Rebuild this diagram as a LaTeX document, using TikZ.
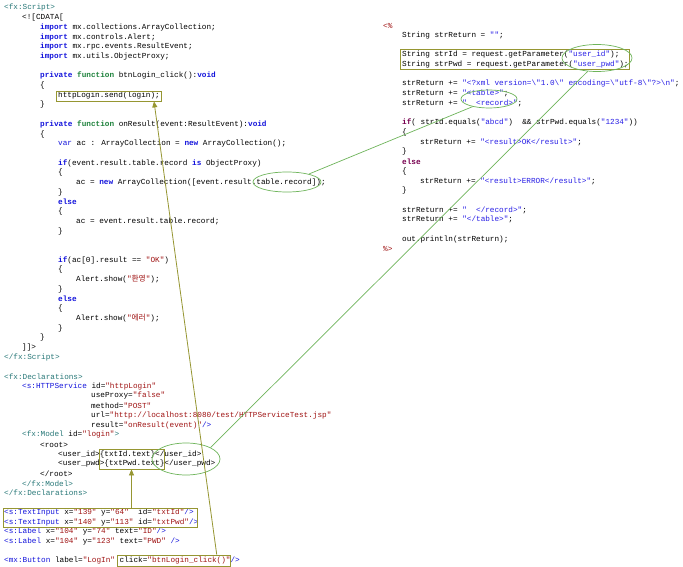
\documentclass[tikz,border=0pt]{standalone}
\usepackage{fontspec}
\usetikzlibrary{shapes.geometric,arrows.meta,calc}
\newfontfamily\cf{Liberation Mono}
\newfontfamily\ko{Noto Sans CJK KR}
\definecolor{tagc}{RGB}{40,120,120}
\definecolor{kwc}{RGB}{20,20,220}
\definecolor{fnc}{RGB}{30,130,60}
\definecolor{avc}{RGB}{160,20,20}
\definecolor{jsc}{RGB}{40,30,230}
\definecolor{jkc}{RGB}{120,0,80}
\definecolor{olc}{RGB}{150,150,50}
\definecolor{grc}{RGB}{110,180,90}
\newcommand\tg[1]{\textcolor{tagc}{#1}}
\newcommand\kw[1]{\textcolor{kwc}{\bfseries #1}}
\newcommand\fn[1]{\textcolor{fnc}{\bfseries #1}}
\newcommand\av[1]{\textcolor{avc}{#1}}
\newcommand\tb[1]{\textcolor{kwc}{#1}}
\newcommand\js[1]{\textcolor{jsc}{#1}}
\newcommand\jk[1]{\textcolor{jkc}{\bfseries #1}}
\newcommand\pc[1]{\textcolor{avc}{#1}}
\newcounter{ln}
\newcommand\cl[3]{\stepcounter{ln}\node[code] (l\theln) at (#1,{-(8+9.7*#2)}) {#3};}
\newcommand\crt[3]{\stepcounter{ln}\node[code] (l\theln) at (#1,{-(25.8+9.7*#2)}) {#3};}
\begin{document}
\begin{tikzpicture}[x=1pt,y=1pt,
  code/.style={anchor=west,inner sep=0pt,font=\cf\fontsize{7.7}{9}\selectfont},
  ob/.style={draw=olc,line width=0.8pt,inner sep=0pt},
  ell/.style={draw=grc,ellipse,line width=0.7pt,inner sep=0pt},
  gl/.style={draw=grc,line width=0.7pt},
  ol/.style={draw=olc,line width=0.8pt,-{Triangle[length=6pt,width=5pt]}}]
\useasboundingbox[fill=white] (0,0) rectangle (683,-567);
% left column
\cl{4}{0}{\tg{<fx:Script>}}
\cl{22}{1}{<![CDATA[}
\cl{40}{2}{\kw{import} mx.collections.ArrayCollection;}
\cl{40}{3}{\kw{import} mx.controls.Alert;}
\cl{40}{4}{\kw{import} mx.rpc.events.ResultEvent;}
\cl{40}{5}{\kw{import} mx.utils.ObjectProxy;}
\cl{40}{7}{\kw{private} \fn{function} btnLogin\_click():\kw{void}}
\cl{40}{8}{\{}
\cl{58}{9}{httpLogin.send(login);}
\cl{40}{10}{\}}
\cl{40}{12}{\kw{private} \fn{function} onResult(event:ResultEvent):\kw{void}}
\cl{40}{13}{\{}
\cl{58}{14}{\tb{var} ac : ArrayCollection = \kw{new} ArrayCollection();}
\cl{58}{16}{\kw{if}(event.result.table.record \kw{is} ObjectProxy)}
\cl{58}{17}{\{}
\cl{76}{18}{ac = \kw{new} ArrayCollection([event.result.table.record]);}
\cl{58}{19}{\}}
\cl{58}{20}{\kw{else}}
\cl{58}{21}{\{}
\cl{76}{22}{ac = event.result.table.record;}
\cl{58}{23}{\}}
\cl{58}{26}{\kw{if}(ac[0].result == \av{"OK"})}
\cl{58}{27}{\{}
\cl{76}{28}{Alert.show(\av{"{\ko 환영}"});}
\cl{58}{29}{\}}
\cl{58}{30}{\kw{else}}
\cl{58}{31}{\{}
\cl{76}{32}{Alert.show(\av{"{\ko 에러}"});}
\cl{58}{33}{\}}
\cl{40}{34}{\}}
\cl{22}{35}{]]>}
\cl{4}{36}{\tg{</fx:Script>}}
\cl{4}{38}{\tg{<fx:Declarations>}}
\cl{22}{39}{\tb{<s:HTTPService} id=\av{"httpLogin"}}
\cl{91}{40}{useProxy=\av{"false"}}
\cl{91}{41}{method=\av{"POST"}}
\cl{91}{42}{url=\av{"http://localhost:8080/test/HTTPServiceTest.jsp"}}
\cl{91}{43}{result=\av{"onResult(event)"}\tb{/>}}
\cl{22}{44}{\tg{<fx:Model} id=\av{"login"}\tg{>}}
\cl{40}{45}{<root>}
\cl{58}{46}{<user\_id>\{txtId.text\}</user\_id>}
\cl{58}{47}{<user\_pwd>\{txtPwd.text\}</user\_pwd>}
\cl{40}{48}{</root>}
\cl{22}{49}{\tg{</fx:Model>}}
\cl{4}{50}{\tg{</fx:Declarations>}}
\cl{4}{52}{\tb{<s:TextInput} x=\av{"139"} y=\av{"64"}\ \ id=\av{"txtId"}\tb{/>}}
\cl{4}{53}{\tb{<s:TextInput} x=\av{"140"} y=\av{"113"} id=\av{"txtPwd"}\tb{/>}}
\cl{4}{54}{\tb{<s:Label} x=\av{"104"} y=\av{"74"} text=\av{"ID"}\tb{/>}}
\cl{4}{55}{\tb{<s:Label} x=\av{"104"} y=\av{"123"} text=\av{"PWD"} \tb{/>}}
\cl{4}{57}{\tb{<mx:Button} label=\av{"LogIn"} click=\av{"btnLogin\_click()"}\tb{/>}}
% right column
\crt{383}{0}{\pc{<\%}}
\crt{402}{1}{String strReturn = \js{""};}
\crt{402}{3}{String strId = request.getParameter(\js{"user\_id"});}
\crt{402}{4}{String strPwd = request.getParameter(\js{"user\_pwd"});}
\crt{402}{6}{strReturn += \js{"<?xml version=\textbackslash"1.0\textbackslash" encoding=\textbackslash"utf-8\textbackslash"?>\textbackslash n"};}
\crt{402}{7}{strReturn += \js{"<table>"};}
\crt{402}{8}{strReturn += \js{"\ \ <record>"};}
\crt{402}{10}{\jk{if}( strId.equals(\js{"abcd"})\ \ \&\& strPwd.equals(\js{"1234"}))}
\crt{402}{11}{\{}
\crt{420}{12}{strReturn += \js{"<result>OK</result>"};}
\crt{402}{13}{\}}
\crt{402}{14}{\jk{else}}
\crt{402}{15}{\{}
\crt{420}{16}{strReturn += \js{"<result>ERROR</result>"};}
\crt{402}{17}{\}}
\crt{402}{19}{strReturn += \js{"\ \ </record>"};}
\crt{402}{20}{strReturn += \js{"</table>"};}
\crt{402}{22}{out.println(strReturn);}
\crt{383}{23}{\pc{\%>}}
% boxes
\node[ob,minimum width=105,minimum height=10] (bhttp) at (108.5,-96) {};
\node[ob,minimum width=229,minimum height=20] (bjsp) at (514.5,-59) {};
\node[ob,minimum width=65,minimum height=20] (btxt) at (131.5,-459) {};
\node[ob,minimum width=194,minimum height=19] (binput) at (100,-517.5) {};
\node[ob,minimum width=113,minimum height=11] (bclick) at (173.5,-560.5) {};
% ellipses
\node[ell,minimum width=68,minimum height=20] (e1) at (287,-182) {};
\node[ell,minimum width=70,minimum height=27] (e2) at (597,-58) {};
\node[ell,minimum width=56,minimum height=18] (e3) at (489,-99) {};
\node[ell,minimum width=68,minimum height=32] (e4) at (186,-459) {};
% connectors
\draw[gl] (e1.20) -- (e3.205);
\draw[gl] (e4.25) -- (e2.235);
\coordinate (cb) at ($(bclick.north west)!0.88!(bclick.north east)$);
\coordinate (ct) at ($(bhttp.south west)!0.93!(bhttp.south east)$);
\draw[ol] (cb) -- (ct);
\draw[ol] (binput.north -| btxt.south) -- (btxt.south);
\end{tikzpicture}
\end{document}
